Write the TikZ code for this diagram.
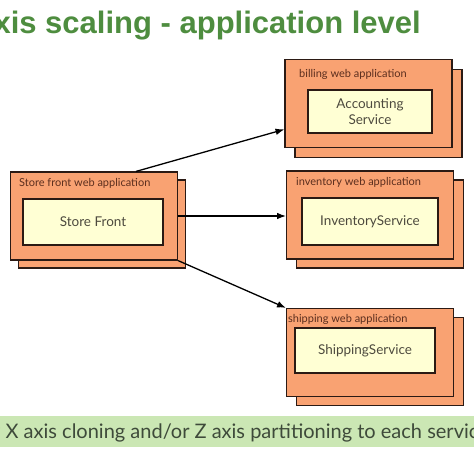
\documentclass[tikz,border=0pt]{standalone}
\usepackage{fontspec}
\setmainfont{Lato}
\newfontfamily\titlefont{Liberation Sans}
\usetikzlibrary{arrows.meta,calc}

\definecolor{appfill}{HTML}{F9A272}
\definecolor{svcfill}{HTML}{FFFFD4}
\definecolor{boxline}{HTML}{2B1A14}
\definecolor{svctext}{HTML}{4D4A3E}
\definecolor{labeltext}{HTML}{5B2E1E}
\definecolor{titlegreen}{HTML}{4E8D3F}
\definecolor{bandgreen}{HTML}{CBE7B4}
\definecolor{bandtext}{HTML}{3E4A3A}

\begin{document}
\begin{tikzpicture}[x=1pt, y=-1pt, >=Latex,
    appbox/.style={draw=boxline, fill=appfill, line width=1.2pt, minimum width=167pt, minimum height=88pt, inner sep=0pt},
    svcbox/.style={draw=boxline, fill=svcfill, line width=1.2pt, inner sep=0pt, align=center, font=\fontsize{13.5}{16}\selectfont, text=svctext},
    applabel/.style={anchor=west, inner sep=0pt, font=\fontsize{11}{13}\selectfont, text=labeltext},
    link/.style={->, line width=1.3pt, draw=black}]
    \useasboundingbox (0,0) rectangle (474,474);
    \clip (0,0) rectangle (474,474);

    \node[anchor=base east, inner sep=0pt, font=\titlefont\bfseries\fontsize{31}{36}\selectfont, text=titlegreen] (title) at (421,33) {xis scaling - application level};

    % billing
    \node[appbox] (bback) at (378.5,113.5) {};
    \node[appbox] (bfront) at (368.5,103.5) {};
    \node[applabel] (blabel) at (299,74) {billing web application};
    \node[svcbox, minimum width=124pt, minimum height=43pt] (acct) at (370,111.5) {Accounting\\Service};

    % store front
    \node[appbox] (sback) at (102,224) {};
    \node[appbox] (sfront) at (94,216) {};
    \node[applabel] (slabel) at (19,183) {Store front web application};
    \node[svcbox, minimum width=140pt, minimum height=46pt] (store) at (93,222) {Store Front};

    % inventory
    \node[appbox] (iback) at (380,224) {};
    \node[appbox] (ifront) at (370,215) {};
    \node[applabel] (ilabel) at (296,182) {inventory web application};
    \node[svcbox, minimum width=136pt, minimum height=47pt] (inv) at (370,221.5) {InventoryService};

    % shipping
    \node[appbox] (pback) at (380,361.5) {};
    \node[appbox] (pfront) at (370,352.5) {};
    \node[applabel] (plabel) at (288,319) {shipping web application};
    \node[svcbox, minimum width=140pt, minimum height=45pt] (ship) at (365,350.5) {ShippingService};

    % band
    \node[fill=bandgreen, minimum width=474pt, minimum height=31pt, anchor=north west, inner sep=0pt] (band) at (0,416) {};
    \node[anchor=base west, inner sep=0pt, font=\fontsize{20}{23}\selectfont, text=bandtext] (note) at (-10,438) {y X axis cloning and/or Z axis partitioning to each service};

    \draw[link] ($(sfront.north west)!0.75!(sfront.north east)$) -- ($(bfront.north west)!0.79!(bfront.south west)$);
    \draw[link] (sfront.east) -- (sfront.east -| ifront.west);
    \draw[link] (sfront.south east) -- (pfront.north west);
\end{tikzpicture}
\end{document}
